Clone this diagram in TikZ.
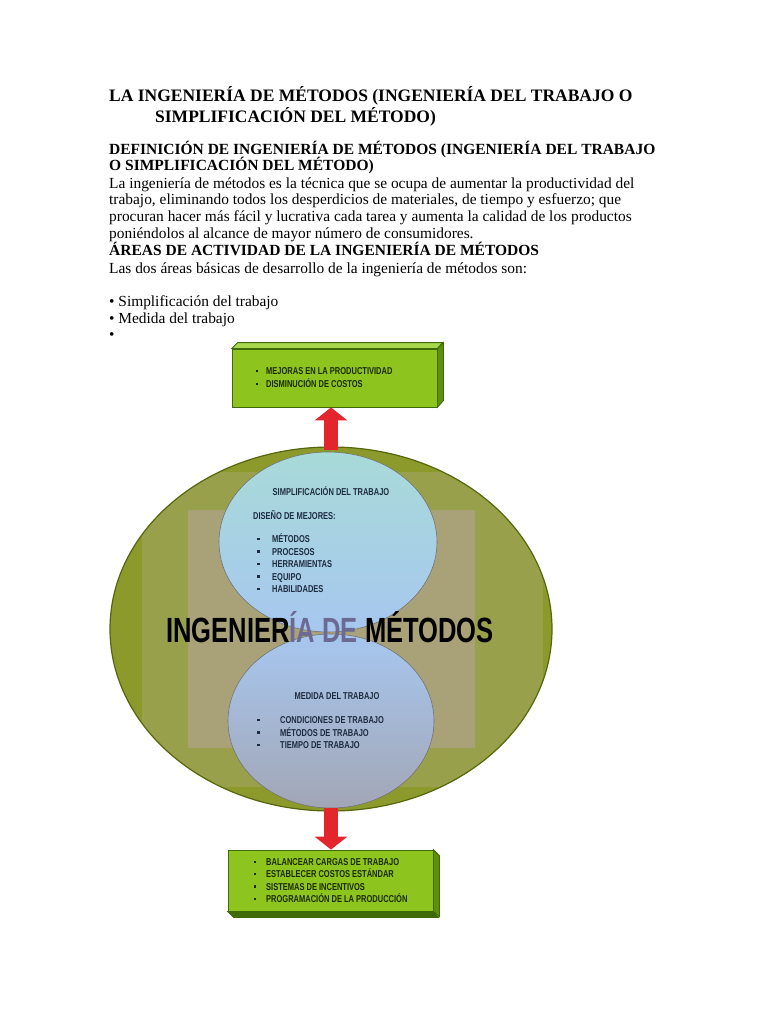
\documentclass[tikz,border=0pt]{standalone}
\usepackage{fontspec}
\setmainfont{Liberation Serif}
\newfontfamily\condfont[FakeStretch=0.75]{Liberation Sans}
\newfontfamily\bigfont[FakeStretch=0.73]{Liberation Sans}
\usetikzlibrary{shapes.geometric,arrows.meta}

\definecolor{olivefill}{HTML}{8C9A2C}
\definecolor{olivedark}{HTML}{56660E}
\definecolor{bandlight}{HTML}{98A04C}
\definecolor{bandtan}{HTML}{A9A278}
\definecolor{limefill}{HTML}{8DC41E}
\definecolor{limetop}{HTML}{A8D84C}
\definecolor{limeside}{HTML}{5E8E12}
\definecolor{limedark}{HTML}{3E6A08}
\definecolor{boxtext}{HTML}{1C2A02}
\definecolor{circtext}{HTML}{1E2C40}
\definecolor{arrowred}{HTML}{E3262B}
\definecolor{skyteal}{HTML}{A8DAD8}
\definecolor{skyblue}{HTML}{A7C7EF}
\definecolor{skygray}{HTML}{A2A6B6}
\definecolor{fadeword}{HTML}{6C6A92}

\newcommand{\sqb}[1]{\llap{\rule[2.4pt]{2.5pt}{2.5pt}\hspace{#1}}}

\begin{document}
\begin{tikzpicture}[x=1pt,y=-1pt,
    txt/.style={anchor=base west,inner sep=0pt,font=\fontsize{15.4}{17}\selectfont},
    head/.style={anchor=base west,inner sep=0pt,font=\bfseries\fontsize{15.5}{18}\selectfont},
    bx/.style={anchor=base west,inner sep=0pt,text=boxtext,font=\condfont\bfseries\fontsize{10}{12}\selectfont},
    cx/.style={anchor=base west,inner sep=0pt,text=circtext,font=\condfont\bfseries\fontsize{10}{12}\selectfont},
    gbox/.style={draw=limedark,line width=0.8pt,fill=limefill,inner sep=0pt},
    circ/.style={ellipse,draw=black!55,line width=0.6pt,inner sep=0pt},
    bigarrow/.style={draw=arrowred,line width=14pt,-{Triangle[width=32pt,length=13pt]}}]
\useasboundingbox[fill=white] (0,0) rectangle (768,1024);

% texto
\node[head,font=\bfseries\fontsize{17.5}{20}\selectfont] (tit1) at (109,102) {LA INGENIERÍA DE MÉTODOS (INGENIERÍA DEL TRABAJO O};
\node[head,font=\bfseries\fontsize{17.5}{20}\selectfont] (tit2) at (155,123) {SIMPLIFICACIÓN DEL MÉTODO)};
\node[head] (def1) at (109,155) {DEFINICIÓN DE INGENIERÍA DE MÉTODOS (INGENIERÍA DEL TRABAJO};
\node[head] (def2) at (109,171) {O SIMPLIFICACIÓN DEL MÉTODO)};
\node[txt] (par1) at (109,189) {La ingeniería de métodos es la técnica que se ocupa de aumentar la productividad del};
\node[txt] (par2) at (109,205) {trabajo, eliminando todos los desperdicios de materiales, de tiempo y esfuerzo; que};
\node[txt] (par3) at (109,222) {procuran hacer más fácil y lucrativa cada tarea y aumenta la calidad de los productos};
\node[txt] (par4) at (109,238) {poniéndolos al alcance de mayor número de consumidores.};
\node[head] (areas) at (109,255) {ÁREAS DE ACTIVIDAD DE LA INGENIERÍA DE MÉTODOS};
\node[txt] (dos) at (109,273) {Las dos áreas básicas de desarrollo de la ingeniería de métodos son:};
\node[txt] (li1) at (109,306) {• Simplificación del trabajo};
\node[txt] (li2) at (109,323) {• Medida del trabajo};
\node[txt] (li3) at (109,339) {•};

% elipse grande
\node[ellipse,draw=olivedark,line width=1.2pt,fill=olivefill,minimum width=442pt,minimum height=364pt,inner sep=0pt] (ingen) at (331,629) {};
\begin{scope}
  \clip (ingen.center) ellipse [x radius=220pt,y radius=181pt];
  \fill[bandlight] (142,472) rectangle (543,787);
  \fill[bandtan] (188,510) rectangle (475,748);
\end{scope}

% circulos
\node[circ,minimum width=218pt,minimum height=180pt,top color=skyteal,bottom color=skyblue] (simp) at (328,542) {};
\node[circ,minimum width=206pt,minimum height=174pt,top color=skyblue,middle color=skyteal,bottom color=skygray] (medi) at (331,721) {};

\node[inner sep=0pt,font=\bigfont\bfseries\fontsize{35}{40}\selectfont] (big) at (330,627) {INGENIER\textcolor{fadeword}{ÍA DE}\ MÉTODOS};

\node[cx,anchor=base] (simpt) at (331,495.5) {SIMPLIFICACIÓN DEL TRABAJO};
\node[cx] (dis) at (253,519.5) {DISEÑO DE MEJORES:};
\foreach \t [count=\i] in {MÉTODOS,PROCESOS,HERRAMIENTAS,EQUIPO,HABILIDADES}
  \node[cx] (s\i) at (272,530+12.5*\i) {\sqb{12.5pt}\t};

\node[cx,anchor=base] (medt) at (337,699.5) {MEDIDA DEL TRABAJO};
\foreach \t [count=\i] in {CONDICIONES DE TRABAJO,MÉTODOS DE TRABAJO,TIEMPO DE TRABAJO}
  \node[cx] (m\i) at (280,711+12.5*\i) {\sqb{20.5pt}\t};

% cajas verdes
\node[gbox,minimum width=205pt,minimum height=58pt] (topbox) at (334.5,378) {};
\filldraw[draw=limedark,line width=0.8pt,fill=limetop] (topbox.north west) -- ++(6,-6) -- ++(205,0) -- (topbox.north east) -- cycle;
\filldraw[draw=limedark,line width=0.8pt,fill=limeside] (topbox.north east) -- ++(6,-6) -- ++(0,58) -- (topbox.south east) -- cycle;
\node[bx] (mej) at (266,374.5) {\sqb{8pt}MEJORAS EN LA PRODUCTIVIDAD};
\node[bx] (dism) at (266,387.5) {\sqb{8pt}DISMINUCIÓN DE COSTOS};

\node[gbox,minimum width=205pt,minimum height=61pt] (botbox) at (330.5,880.5) {};
\filldraw[draw=limedark,line width=0.8pt,fill=limeside] (botbox.north east) -- ++(6,6) -- ++(0,61) -- (botbox.south east) -- cycle;
\filldraw[draw=limedark,line width=0.8pt,fill=limedark] (botbox.south west) -- ++(6,6) -- ++(205,0) -- (botbox.south east) -- cycle;
\foreach \t [count=\i] in {BALANCEAR CARGAS DE TRABAJO,ESTABLECER COSTOS ESTÁNDAR,SISTEMAS DE INCENTIVOS,PROGRAMACIÓN DE LA PRODUCCIÓN}
  \node[bx] (b\i) at (266,853+12.4*\i) {\sqb{10pt}\t};

% flechas
\draw[bigarrow,shorten <=-4pt] (ingen.north) -- (ingen.north |- topbox.south);
\draw[bigarrow,shorten <=-4pt] (ingen.south) -- (ingen.south |- botbox.north);
\end{tikzpicture}
\end{document}
